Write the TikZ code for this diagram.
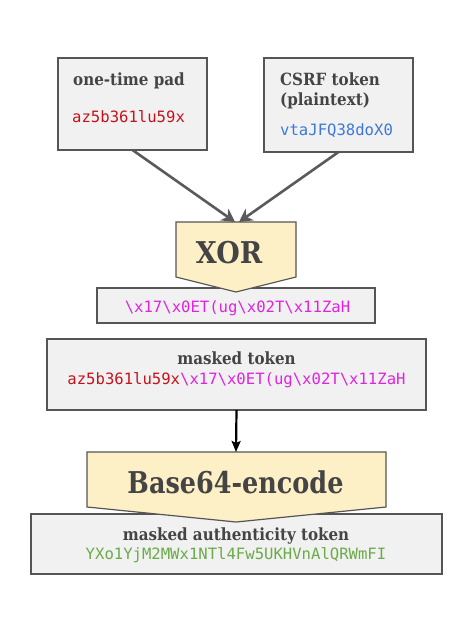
\documentclass[tikz,border=0pt]{standalone}
\usepackage{fontspec}
\setmainfont{DejaVu Serif}
\newfontfamily\monof{DejaVu Sans Mono}
\usetikzlibrary{arrows.meta}
\definecolor{boxfill}{HTML}{F1F1F1}
\definecolor{boxline}{HTML}{555555}
\definecolor{pentfill}{HTML}{FDEFC6}
\definecolor{headtext}{HTML}{444444}
\definecolor{redtok}{HTML}{C3141E}
\definecolor{bluetok}{HTML}{3D78D8}
\definecolor{magtok}{HTML}{E023E0}
\definecolor{greentok}{HTML}{6AAB48}
\definecolor{arrowgray}{HTML}{5A5A5A}
\newcommand{\narrow}[1]{\scalebox{0.9}[1.0]{#1}}
\begin{document}
\begin{tikzpicture}[x=1pt,y=-1pt,
  box/.style={draw=boxline, fill=boxfill, line width=1.2pt, inner sep=0pt, outer sep=0pt},
  pent/.style={draw=boxline, fill=pentfill, line width=1.2pt},
  head/.style={text=headtext, font=\bfseries\fontsize{16.8}{19}\selectfont, inner sep=0pt},
  bighead/.style={anchor=base, text=headtext, font=\bfseries\fontsize{30}{36}\selectfont, inner sep=0pt},
  mono/.style={font=\monof\fontsize{15.6}{18}\selectfont, inner sep=0pt},
  grayarrow/.style={draw=arrowgray, line width=2.6pt, -{Stealth[length=13pt,width=14pt,inset=4pt]}},
  blackarrow/.style={draw=black, line width=2.2pt, -{Stealth[length=11pt,width=9pt,inset=2pt]}}]
\useasboundingbox (0,0) rectangle (474,635);
\fill[white] (0,0) rectangle (474,635);
% top boxes
\node[box, minimum width=149pt, minimum height=92pt] (otp) at (132.5,104) {};
\node[box, minimum width=149pt, minimum height=94pt] (csrf) at (338.5,105) {};
\node[head, anchor=base west] (otph) at (73,85) {\narrow{one-time pad}};
\node[mono, anchor=base west, text=redtok] (otpv) at (72,122) {az5b361lu59x};
\node[head, anchor=base west] (csrfh1) at (280,85) {\narrow{CSRF token}};
\node[head, anchor=base west] (csrfh2) at (280,105) {\narrow{(plaintext)}};
\node[mono, anchor=base west, text=bluetok] (csrfv) at (280,135) {vtaJFQ38doX0};
% XOR output box
\node[box, minimum width=278pt, minimum height=35pt] (xorout) at (236,305.5) {};
\node[mono, anchor=base, text=magtok] (xoroutv) at (237.5,312) {\textbackslash{}x17\textbackslash{}x0ET(ug\textbackslash{}x02T\textbackslash{}x11ZaH};
% XOR pentagon
\coordinate (xortop) at (236,222);
\draw[pent] (176,222) -- (296,222) -- (296,277) -- (236,292) -- (176,277) -- cycle;
\node[bighead] (xorh) at (229,263) {\narrow{XOR}};
% arrows into XOR
\draw[grayarrow] (otp.south) -- ([xshift=-1pt]xortop);
\draw[grayarrow] (csrf.south) -- ([xshift=3pt]xortop);
% masked token
\node[box, minimum width=379pt, minimum height=71pt] (masked) at (236.5,374.5) {};
\node[head, anchor=base] (maskedh) at (236.5,364) {\narrow{masked token}};
\node[mono, anchor=base] (maskedv) at (236.5,384) {\textcolor{redtok}{az5b361lu59x}\textcolor{magtok}{\textbackslash{}x17\textbackslash{}x0ET(ug\textbackslash{}x02T\textbackslash{}x11ZaH}};
% final box
\node[box, minimum width=411pt, minimum height=60pt] (final) at (236.5,544) {};
\node[head, anchor=base] (finalh) at (236,540) {\narrow{masked authenticity token}};
\node[mono, anchor=base, text=greentok] (finalv) at (236,559) {YXo1YjM2MWx1NTl4Fw5UKHVnAlQRWmFI};
% Base64 pentagon
\coordinate (b64top) at (236,452);
\draw[pent] (87,452) -- (386,452) -- (386,507) -- (236,522) -- (87,507) -- cycle;
\node[bighead] (b64h) at (235.5,493) {\scalebox{0.85}[1.0]{Base64-encode}};
% middle arrow
\draw[blackarrow] (masked.south) -- (b64top);
\end{tikzpicture}
\end{document}
